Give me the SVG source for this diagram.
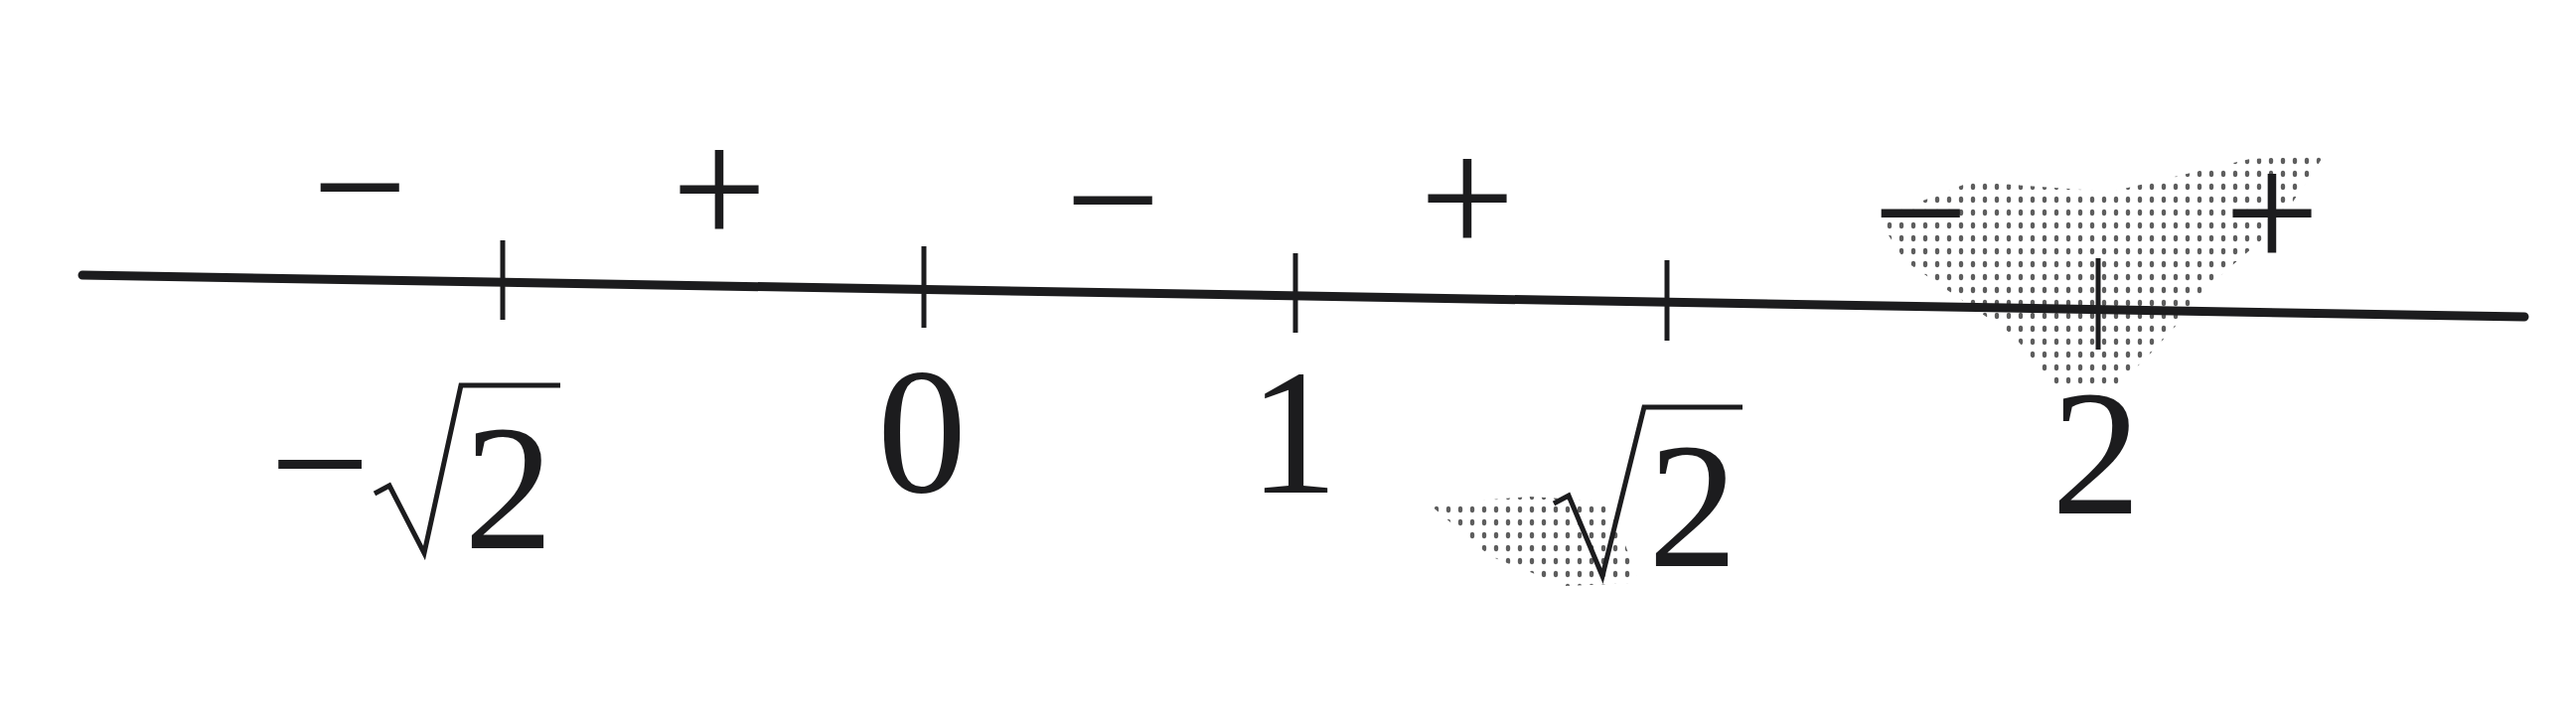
<svg xmlns="http://www.w3.org/2000/svg" width="2593" height="728" viewBox="0 0 2593 728">
<style>
.t{font-family:"Liberation Serif","Times New Roman",serif;fill:#1c1c1e;text-anchor:middle}
.sg{font-size:170px}
.lb{font-size:180px}
.tk{stroke:#1c1c1e;stroke-width:5;fill:none}
.ax{stroke:#1c1c1e;stroke-width:9;fill:none;stroke-linecap:round}
.rd{stroke:#1c1c1e;stroke-width:5;fill:none;stroke-linejoin:miter}
.st{fill:url(#dots)}
</style>
<defs>
<pattern id="dots" width="12" height="13" patternUnits="userSpaceOnUse">
<ellipse cx="6" cy="6" rx="2.2" ry="3.2" fill="#5e5e5e"/>
</pattern>
</defs>
<rect width="2593" height="728" fill="#ffffff"/>
<g id="stipple">
<polygon class="st" points="1890,220 1984,183 2125,193 2265,160 2339,157 2290,230 2224,287 2191,327 2158,363 2125,393 2067,387 2026,337 1976,303 1918,263"/>
<polygon class="st" points="1439,508 1540,500 1620,505 1650,587 1575,590 1500,560"/>
</g>
<g id="axis">
<line class="ax" x1="83" y1="277" x2="2541" y2="319"/>
</g>
<g id="ticks">
<line class="tk" x1="506" y1="242" x2="506" y2="322"/>
<line class="tk" x1="930" y1="248" x2="930" y2="330"/>
<line class="tk" x1="1304" y1="255" x2="1304" y2="335"/>
<line class="tk" x1="1678" y1="262" x2="1678" y2="343"/>
<line class="tk" x1="2112" y1="260" x2="2112" y2="352"/>
</g>
<g id="signs">
<text class="t sg" x="362" y="245">−</text>
<text class="t sg" x="724" y="247">+</text>
<text class="t sg" x="1120" y="258">−</text>
<text class="t sg" x="1477" y="256">+</text>
<text class="t sg" x="1933" y="271">−</text>
<text class="t sg" x="2287" y="271">+</text>
</g>
<g id="label-neg-sqrt2">
<text class="t lb" x="322" y="527">−</text>
<polyline class="rd" points="377,497 392,489 427,557 464,388 564,388"/>
<text class="t lb" x="512" y="552">2</text>
</g>
<g id="label-0">
<text class="t lb" x="928" y="495">0</text>
</g>
<g id="label-1">
<text class="t lb" x="1302" y="496">1</text>
</g>
<g id="label-sqrt2">
<polyline class="rd" points="1564,507 1579,499 1613,580 1655,410 1754,410"/>
<text class="t lb" x="1704" y="570">2</text>
</g>
<g id="label-2">
<text class="t lb" x="2110" y="517">2</text>
</g>
</svg>
